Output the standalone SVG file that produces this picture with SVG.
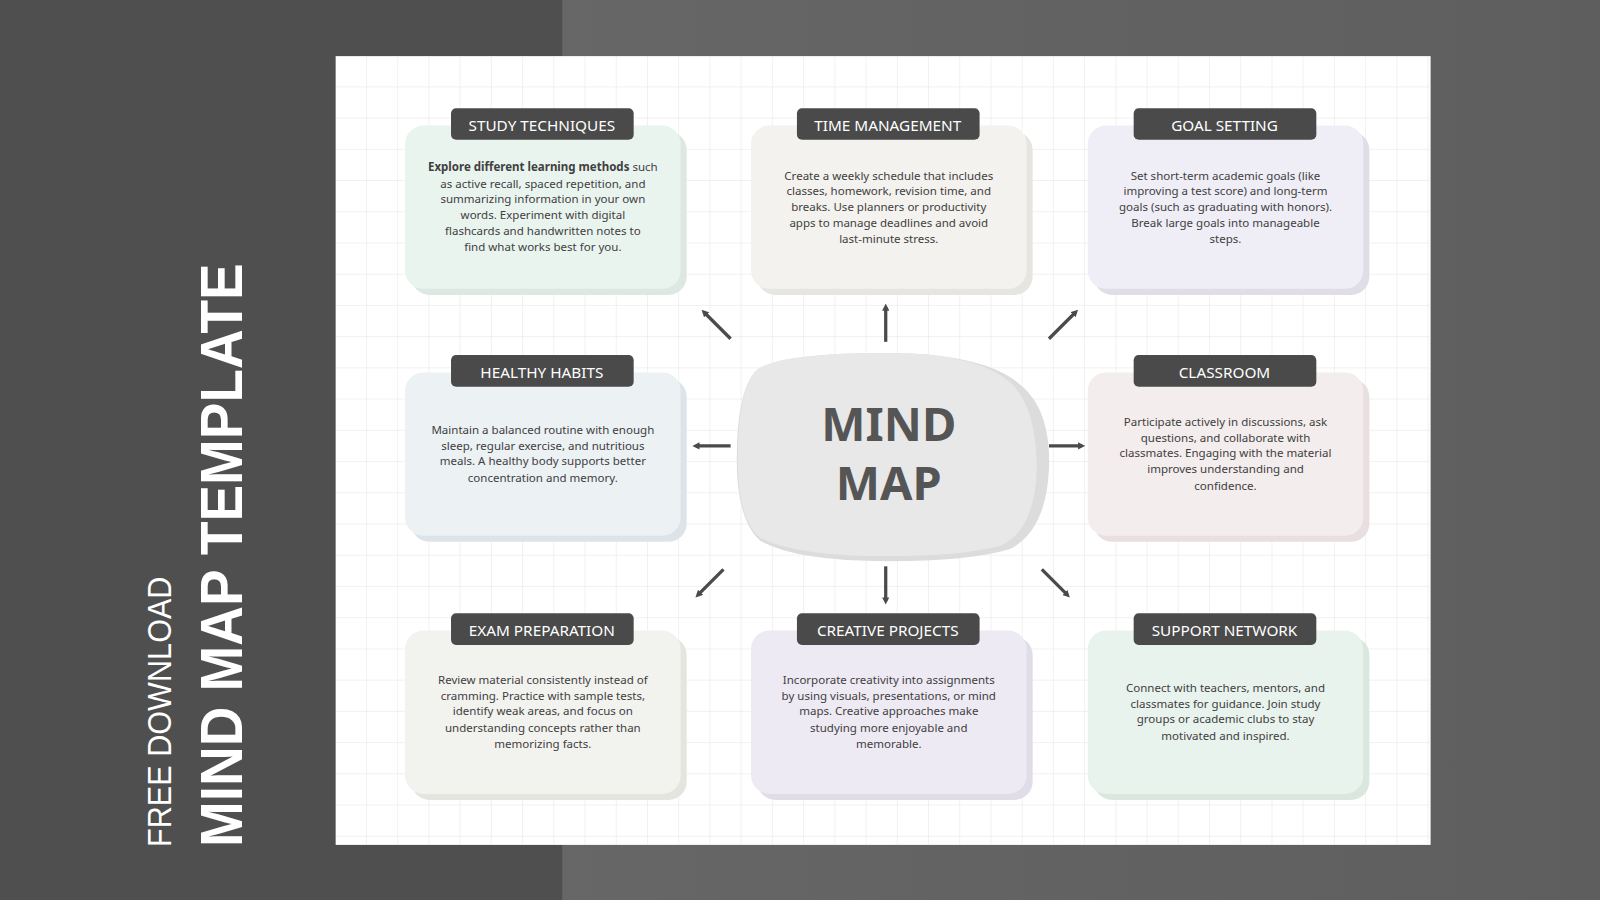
<svg xmlns="http://www.w3.org/2000/svg" width="1600" height="900" viewBox="0 0 1600 900">
<defs>
<linearGradient id="bg" x1="0" x2="1" y1="0" y2="0"><stop offset="0" stop-color="#6b6b6b"/><stop offset="1" stop-color="#5e5e5e"/></linearGradient>
<pattern id="grid" x="329" y="55" width="30.6" height="30.6" patternUnits="userSpaceOnUse"><path d="M30.6 0V30.6H0" fill="none" stroke="#e4e4e4" stroke-width="1"/></pattern>
<marker id="ah" viewBox="0 0 10 10" refX="5" refY="5" markerWidth="2.2" markerHeight="2.2" orient="auto"><path d="M0 0L10 5L0 10z" fill="#4a4a4a"/></marker>
<style>
.hdr{fill:#4a4a4a}
.ht{font-family:"Noto Sans",sans-serif;font-size:15px;fill:#fff;text-anchor:middle}
.bt{font-family:"Noto Sans",sans-serif;font-size:11.3px;fill:#3f3f3f;text-anchor:middle}
.con line{stroke:#4a4a4a;stroke-width:3.2;marker-end:url(#ah)}
</style>
</defs>
<g transform="scale(1.020408)">
<rect width="1568" height="882" fill="url(#bg)"/>
<rect width="551" height="882" fill="#4f4f4f"/>
<text transform="translate(168,830) rotate(-90)" font-family="Liberation Sans,sans-serif" font-size="33" fill="#fff" textLength="265" lengthAdjust="spacingAndGlyphs">FREE DOWNLOAD</text>
<text transform="translate(237,830) rotate(-90)" font-family="Liberation Sans,sans-serif" font-weight="bold" font-size="58" fill="#fff" textLength="572" lengthAdjust="spacingAndGlyphs">MIND MAP TEMPLATE</text>
<rect x="329" y="55" width="1073" height="773" fill="#fff"/>
<rect x="329" y="55" width="1073" height="773" fill="url(#grid)"/>

<g class="con">
<line x1="716" y1="332" x2="690" y2="306"/>
<line x1="868" y1="335" x2="868" y2="301"/>
<line x1="1028" y1="332" x2="1054" y2="306"/>
<line x1="716" y1="437" x2="682" y2="437"/>
<line x1="1028" y1="437" x2="1060" y2="437"/>
<line x1="709" y1="558" x2="684" y2="583"/>
<line x1="868" y1="555" x2="868" y2="589"/>
<line x1="1021" y1="558" x2="1046" y2="583"/>
</g>

<g id="center">
<path d="M740 364Q760 346 870 346Q975 346 1008 385Q1030 410 1028 460Q1025 520 990 538Q950 550 870 550Q780 550 745 530Q722 510 722 450Q722 385 740 364Z" fill="#dcdcdc"/>
<path d="M740 364Q760 346 870 346Q965 346 995 380Q1016 405 1016 460Q1014 520 980 535Q940 545 870 545Q780 545 745 527Q723 510 723 450Q723 385 740 364Z" fill="#e8e8e8"/>
<text x="871" y="432" font-family="Noto Sans,sans-serif" font-weight="bold" font-size="46" fill="#555" text-anchor="middle">MIND</text>
<text x="871" y="490" font-family="Noto Sans,sans-serif" font-weight="bold" font-size="46" fill="#555" text-anchor="middle">MAP</text>
</g>

<g id="study">
<rect x="403" y="129" width="270" height="160" rx="18" fill="#dce8e1"/>
<rect x="397" y="123" width="270" height="160" rx="18" fill="#eaf4ef"/>
<rect x="442" y="106" width="179" height="31" rx="5" class="hdr"/>
<text x="531" y="128" class="ht">STUDY TECHNIQUES</text>
<text class="bt"><tspan x="532" y="168"><tspan font-weight="bold">Explore different learning methods</tspan> such</tspan><tspan x="532" y="184">as active recall, spaced repetition, and</tspan><tspan x="532" y="199">summarizing information in your own</tspan><tspan x="532" y="215">words. Experiment with digital</tspan><tspan x="532" y="230">flashcards and handwritten notes to</tspan><tspan x="532" y="246">find what works best for you.</tspan></text>
</g>

<g id="time">
<rect x="742" y="129" width="270" height="160" rx="18" fill="#e6e5e0"/>
<rect x="736" y="123" width="270" height="160" rx="18" fill="#f3f2ee"/>
<rect x="781" y="106" width="179" height="31" rx="5" class="hdr"/>
<text x="870" y="128" class="ht">TIME MANAGEMENT</text>
<text class="bt"><tspan x="871" y="176">Create a weekly schedule that includes</tspan><tspan x="871" y="191">classes, homework, revision time, and</tspan><tspan x="871" y="207">breaks. Use planners or productivity</tspan><tspan x="871" y="222">apps to manage deadlines and avoid</tspan><tspan x="871" y="238">last-minute stress.</tspan></text>
</g>

<g id="goal">
<rect x="1072" y="129" width="270" height="160" rx="18" fill="#e0dde9"/>
<rect x="1066" y="123" width="270" height="160" rx="18" fill="#efedf5"/>
<rect x="1111" y="106" width="179" height="31" rx="5" class="hdr"/>
<text x="1200" y="128" class="ht">GOAL SETTING</text>
<text class="bt"><tspan x="1201" y="176">Set short-term academic goals (like</tspan><tspan x="1201" y="191">improving a test score) and long-term</tspan><tspan x="1201" y="207">goals (such as graduating with honors).</tspan><tspan x="1201" y="222">Break large goals into manageable</tspan><tspan x="1201" y="238">steps.</tspan></text>
</g>

<g id="healthy">
<rect x="403" y="371" width="270" height="160" rx="18" fill="#dde4e9"/>
<rect x="397" y="365" width="270" height="160" rx="18" fill="#ecf1f4"/>
<rect x="442" y="348" width="179" height="31" rx="5" class="hdr"/>
<text x="531" y="370" class="ht">HEALTHY HABITS</text>
<text class="bt"><tspan x="532" y="425">Maintain a balanced routine with enough</tspan><tspan x="532" y="441">sleep, regular exercise, and nutritious</tspan><tspan x="532" y="456">meals. A healthy body supports better</tspan><tspan x="532" y="472">concentration and memory.</tspan></text>
</g>

<g id="classroom">
<rect x="1072" y="371" width="270" height="160" rx="18" fill="#e9dfe0"/>
<rect x="1066" y="365" width="270" height="160" rx="18" fill="#f3eded"/>
<rect x="1111" y="348" width="179" height="31" rx="5" class="hdr"/>
<text x="1200" y="370" class="ht">CLASSROOM</text>
<text class="bt"><tspan x="1201" y="417">Participate actively in discussions, ask</tspan><tspan x="1201" y="433">questions, and collaborate with</tspan><tspan x="1201" y="448">classmates. Engaging with the material</tspan><tspan x="1201" y="464">improves understanding and</tspan><tspan x="1201" y="480">confidence.</tspan></text>
</g>

<g id="exam">
<rect x="403" y="624" width="270" height="160" rx="18" fill="#e5e5e0"/>
<rect x="397" y="618" width="270" height="160" rx="18" fill="#f2f2ee"/>
<rect x="442" y="601" width="179" height="31" rx="5" class="hdr"/>
<text x="531" y="623" class="ht">EXAM PREPARATION</text>
<text class="bt"><tspan x="532" y="670">Review material consistently instead of</tspan><tspan x="532" y="686">cramming. Practice with sample tests,</tspan><tspan x="532" y="701">identify weak areas, and focus on</tspan><tspan x="532" y="717">understanding concepts rather than</tspan><tspan x="532" y="733">memorizing facts.</tspan></text>
</g>

<g id="creative">
<rect x="742" y="624" width="270" height="160" rx="18" fill="#e0dce8"/>
<rect x="736" y="618" width="270" height="160" rx="18" fill="#eeeaf3"/>
<rect x="781" y="601" width="179" height="31" rx="5" class="hdr"/>
<text x="870" y="623" class="ht">CREATIVE PROJECTS</text>
<text class="bt"><tspan x="871" y="670">Incorporate creativity into assignments</tspan><tspan x="871" y="686">by using visuals, presentations, or mind</tspan><tspan x="871" y="701">maps. Creative approaches make</tspan><tspan x="871" y="717">studying more enjoyable and</tspan><tspan x="871" y="733">memorable.</tspan></text>
</g>

<g id="support">
<rect x="1072" y="624" width="270" height="160" rx="18" fill="#dae7de"/>
<rect x="1066" y="618" width="270" height="160" rx="18" fill="#e9f3ed"/>
<rect x="1111" y="601" width="179" height="31" rx="5" class="hdr"/>
<text x="1200" y="623" class="ht">SUPPORT NETWORK</text>
<text class="bt"><tspan x="1201" y="678">Connect with teachers, mentors, and</tspan><tspan x="1201" y="694">classmates for guidance. Join study</tspan><tspan x="1201" y="709">groups or academic clubs to stay</tspan><tspan x="1201" y="725">motivated and inspired.</tspan></text>
</g>
</g>
</svg>
